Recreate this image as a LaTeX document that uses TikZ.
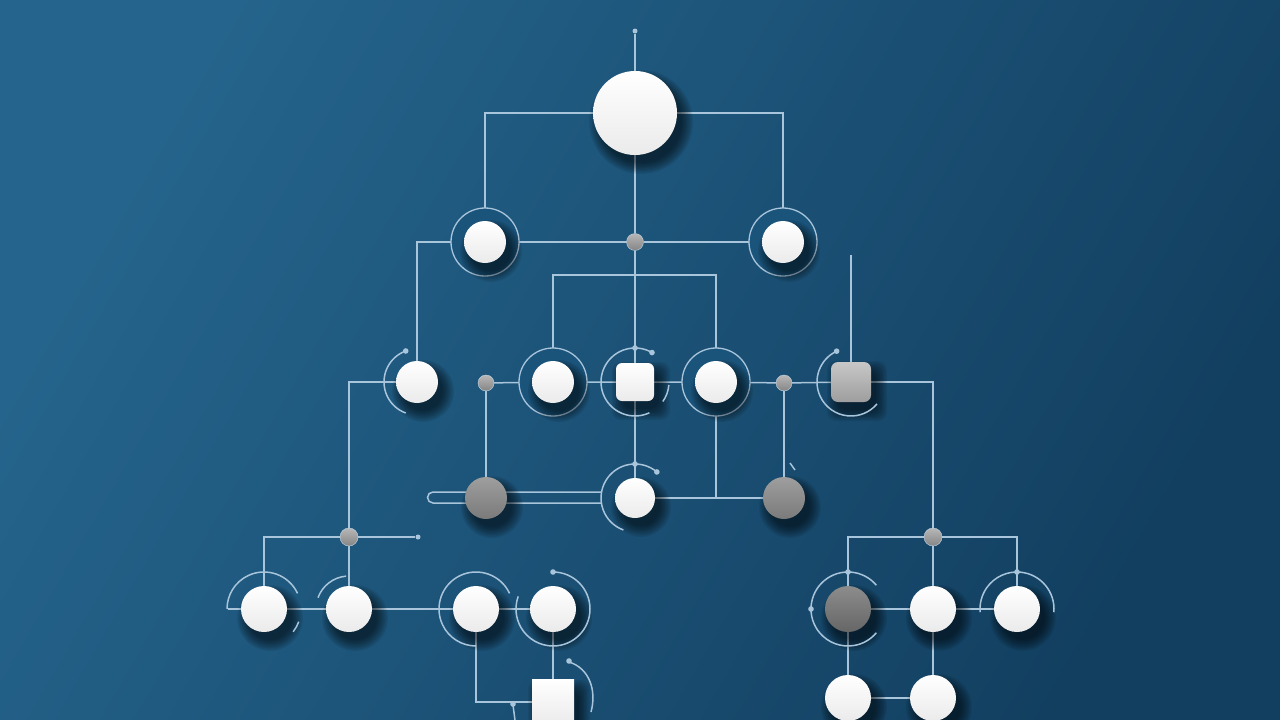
\documentclass[tikz,border=0pt]{standalone}
\definecolor{bgA}{HTML}{25648C}
\definecolor{bgB}{HTML}{123F60}
\definecolor{ln}{HTML}{A9C5DB}
\definecolor{ringfill}{HTML}{1B547B}
\pgfdeclarelayer{back}
\pgfdeclarelayer{wires}
\pgfdeclarelayer{rings}
\pgfdeclarelayer{shadowlayer}
\pgfsetlayers{back,wires,rings,shadowlayer,main}
\newcommand\arcat[4]{\draw[wire] ([shift={(#2:#4pt)}]#1.center) arc[start angle=#2,end angle=#3,radius=#4pt];}
\newcommand\arcdot[3]{\fill[ln] ([shift={(#2:#3pt)}]#1.center) circle[radius=2.8pt];}
\newcommand\shc[2]{\foreach \k in {0,...,8}{\fill[black,opacity=0.075] ([shift={(6pt,-9pt)}]#1.center) circle[radius={#2pt+10pt-\k*1.4pt}];}}
\newcommand\shs[2]{\foreach \k in {0,...,8}{\fill[black,opacity=0.075,rounded corners=9pt] ([shift={({6pt-#2pt-10pt+\k*1.4pt},{-9pt-#2pt-10pt+\k*1.4pt})}]#1.center) rectangle ([shift={({6pt+#2pt+10pt-\k*1.4pt},{-9pt+#2pt+10pt-\k*1.4pt})}]#1.center);}}
\begin{document}
\begin{tikzpicture}[x=1pt,y=-1pt,
  wire/.style={draw=ln, line width=1.5pt},
  wnode/.style={circle, inner sep=0pt, minimum size=#1, top color=white, bottom color=black!8},
  gnode/.style={circle, inner sep=0pt, minimum size=#1, top color=black!38, bottom color=black!52},
  wsq/.style={rectangle, rounded corners=6pt, inner sep=0pt, minimum size=#1, top color=white, bottom color=black!8},
  gsq/.style={rectangle, rounded corners=7pt, inner sep=0pt, minimum size=#1, top color=black!22, bottom color=black!38},
  ringnode/.style={circle, inner sep=0pt, minimum size=68pt, draw=ln, line width=1.3pt, fill=ringfill},
  jdot/.style={circle, inner sep=0pt, minimum size=#1, top color=black!28, bottom color=black!48, draw=ln!70, line width=0.4pt}
]
\begin{pgfonlayer}{back}
\shade[top color=bgA,bottom color=bgB,shading angle=60] (0,0) rectangle (1280,720);
\end{pgfonlayer}
\useasboundingbox (0,0) rectangle (1280,720);

% nodes
\node[circle, inner sep=0pt, minimum size=5pt, fill=ln] (top) at (635,31) {};
\node[wnode=84pt] (root) at (635,113) {};
\begin{pgfonlayer}{rings}
\node[ringnode] (L2aR) at (485,242) {};
\node[ringnode] (L2bR) at (783,242) {};
\node[ringnode] (n3bR) at (553,382) {};
\node[ringnode] (n3dR) at (716,382) {};
\end{pgfonlayer}
\node[wnode=42pt] (L2a) at (485,242) {};
\node[wnode=42pt] (L2b) at (783,242) {};
\node[jdot=17pt] (J1) at (635,242) {};

\node[wnode=42pt] (n3a) at (417,382) {};
\node[jdot=16pt] (d3a) at (486,383) {};
\node[wnode=42pt] (n3b) at (553,382) {};
\node[wsq=38pt] (n3c) at (635,382) {};
\node[wnode=42pt] (n3d) at (716,382) {};
\node[jdot=16pt] (d3b) at (784,383) {};
\node[gsq=40pt] (n3e) at (851,382) {};

\node[gnode=42pt] (g4a) at (486,498) {};
\node[wnode=40pt] (n4b) at (635,498) {};
\node[gnode=42pt] (g4c) at (784,498) {};

\node[jdot=18pt] (J5a) at (349,537) {};
\node[jdot=18pt] (J5b) at (933,537) {};
\node[circle, inner sep=0pt, minimum size=5pt, fill=ln] (e5a) at (418,537) {};

\node[wnode=46pt] (n5a) at (264,609) {};
\node[wnode=46pt] (n5b) at (349,609) {};
\node[wnode=46pt] (n5c) at (476,609) {};
\node[wnode=46pt] (n5d) at (553,609) {};
\node[rectangle, inner sep=0pt, minimum width=42pt, minimum height=46pt, top color=white, bottom color=black!8] (sq5) at (553,702) {};
\node[gnode=46pt, top color=black!45, bottom color=black!60] (n5e) at (848,609) {};
\node[wnode=46pt] (n5f) at (933,609) {};
\node[wnode=46pt] (n5g) at (1017,609) {};
\node[wnode=46pt] (n6a) at (848,698) {};
\node[wnode=46pt] (n6b) at (933,698) {};

\coordinate (c1) at (851,255);
\coordinate (t) at (635,275);
\coordinate (l5) at (228,609);

% shadows
\begin{pgfonlayer}{shadowlayer}
\shc{root}{42}
\shc{L2a}{21} \shc{L2b}{21}
\shc{n3a}{21} \shc{n3b}{21} \shc{n3d}{21}
\shs{n3c}{19} \shs{n3e}{20}
\shc{g4a}{21} \shc{n4b}{20} \shc{g4c}{21}
\shc{n5a}{23} \shc{n5b}{23} \shc{n5c}{23} \shc{n5d}{23}
\shc{n5e}{23} \shc{n5f}{23} \shc{n5g}{23}
\shc{n6a}{23} \shc{n6b}{23}
\shs{sq5}{21}
\end{pgfonlayer}

% wires
\begin{pgfonlayer}{wires}
\draw[wire] (top) -- (root);
\draw[wire] (root) -| (L2a);
\draw[wire] (root) -| (L2b);
\draw[wire] (root) -- (J1) -- (n3c);
\draw[wire] (L2a) -- (J1) -- (L2b);
\draw[wire] (L2a) -| (n3a);
\draw[wire] (c1) -- (n3e);
\draw[wire] (n3b) |- (t) -| (n3d);
\draw[wire] (d3a) -- (n3b) -- (n3c) -- (n3d) -- (d3b) -- (n3e);
\draw[wire] (n3e) -| (J5b);
\draw[wire] (n3a) -| (J5a);
\draw[wire] (d3a) -- (g4a);
\draw[wire] (d3b) -- (g4c);
\draw[wire] (n3c) -- (n4b);
\draw[wire] (n3d) |- (n4b);
\draw[wire] (n4b) -- (g4c);
\draw[wire] (601,492) -- (433,492) arc[start angle=90,end angle=270,radius=5.5pt] -- (601,503);
\draw[wire] (n5a) |- (J5a) -- (e5a);
\draw[wire] (J5a) -- (n5b);
\draw[wire] (l5) -- (n5a) -- (n5b) -- (n5c) -- (n5d);
\draw[wire] (n5c) |- (sq5);
\draw[wire] (n5d) -- (sq5);
\draw[wire] (n5e) |- (J5b) -| (n5g);
\draw[wire] (J5b) -- (n5f);
\draw[wire] (n5e) -- (n5f) -- (n5g);
\draw[wire] (n5e) -- (n6a);
\draw[wire] (n5f) -- (n6b);
\draw[wire] (n6a) -- (n6b);
\end{pgfonlayer}

% partial rings
\arcat{n3a}{110}{250}{33} \arcdot{n3a}{110}{33}
\arcat{n3c}{60}{295}{34} \arcdot{n3c}{60}{34} \arcdot{n3c}{90}{34}
\arcat{n3c}{-5}{-35}{34}
\arcat{n3e}{115}{320}{34} \arcdot{n3e}{115}{34}
\arcat{n4b}{50}{250}{34} \arcdot{n4b}{50}{34} \arcdot{n4b}{90}{34}
\draw[wire] (790,463) -- (795,470);
\arcat{n5a}{25}{180}{37}
\arcat{n5a}{-20}{-38}{37}
\arcat{n5b}{95}{160}{33}
\arcat{n5c}{25}{270}{37}
\arcat{n5d}{90}{-200}{37} \arcdot{n5d}{90}{37}
\arcat{n5e}{40}{320}{37} \arcdot{n5e}{90}{37} \arcdot{n5e}{180}{37}
\arcat{n5g}{-5}{185}{37} \arcdot{n5g}{90}{37}
\draw[wire] (569,662) .. controls (589,668) and (597,690) .. (591,712);
\fill[ln] (569,661) circle[radius=2.8pt];
\draw[wire] (513,705) -- (515,720);
\fill[ln] (513,704) circle[radius=2.8pt];
\end{tikzpicture}
\end{document}
